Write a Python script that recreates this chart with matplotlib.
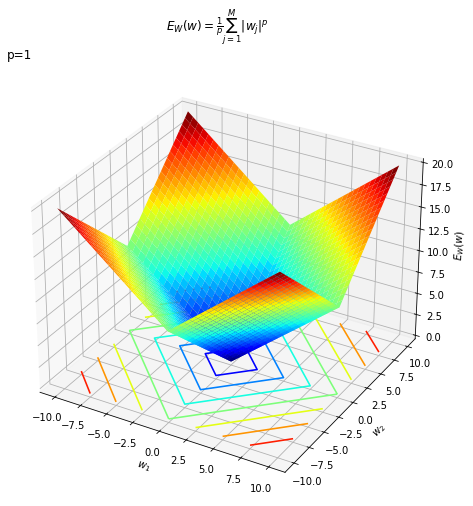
import numpy as np
import matplotlib
matplotlib.use('Agg')
import matplotlib.pyplot as plt
from matplotlib import cm

# grid positions on both weight axes, and |w| at each of them
w_values = [-10, -9.5, -9, -8.5, -8, -7.5, -7, -6.5, -6, -5.5, -5, -4.5, -4, -3.5, -3, -2.5, -2, -1.5, -1, -0.5, 0,
            0.5, 1, 1.5, 2, 2.5, 3, 3.5, 4, 4.5, 5, 5.5, 6, 6.5, 7, 7.5, 8, 8.5, 9, 9.5, 10]
w_abs = [10, 9.5, 9, 8.5, 8, 7.5, 7, 6.5, 6, 5.5, 5, 4.5, 4, 3.5, 3, 2.5, 2, 1.5, 1, 0.5, 0,
         0.5, 1, 1.5, 2, 2.5, 3, 3.5, 4, 4.5, 5, 5.5, 6, 6.5, 7, 7.5, 8, 8.5, 9, 9.5, 10]

title = r'$E_W(w) = \frac{1}{p}\sum_{j=1}^{M}|w_j|^p$'

W1, W2 = np.meshgrid(w_values, w_values)
E = np.add.outer(w_abs, w_abs)

fig = plt.figure(figsize=(6.57, 7.03), dpi=72)
ax = fig.add_axes([0.015, 0.012, 0.922, 0.862], projection='3d')
ax.plot_surface(W1, W2, E, rstride=1, cstride=1, cmap=cm.jet, linewidth=0)
ax.contour(W1, W2, E, zdir='z', offset=0, cmap=cm.jet, linewidths=1.6)
ax.set_xlabel('$w_1$')
ax.set_ylabel('$w_2$')
ax.set_zlabel('$E_W(w)$')
fig.text(0.459, 0.938, title, ha='center', fontsize=12)
fig.text(0.015, 0.883, 'p=1', fontsize=12)
fig.savefig('out.png', dpi=72)
